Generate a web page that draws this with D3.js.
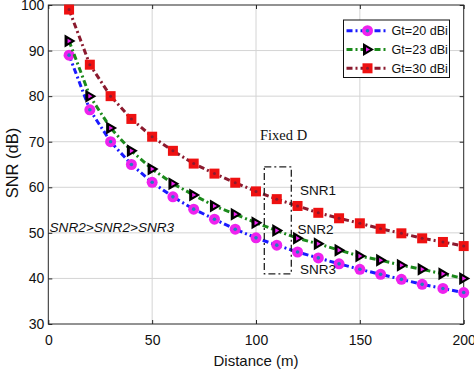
<!DOCTYPE html>
<html>
<head>
<meta charset="utf-8">
<script src="https://cdn.jsdelivr.net/npm/d3@7"></script>
<style>
  body { margin: 0; background: #fff; }
  svg { display: block; font-family: "Liberation Sans", Arial, sans-serif; }
</style>
</head>
<body>
<div id="chart"></div>
<script>
// data
var distance = [10, 20, 30, 40, 50, 60, 70, 80, 90, 100, 110, 120, 130, 140, 150, 160, 170, 180, 190, 200];
var snrGt20 = [89, 77, 70, 65, 61.1, 57.9, 55.2, 53.0, 50.8, 48.9, 47.3, 45.8, 44.5, 43.2, 42.0, 40.9, 39.8, 38.7, 37.8, 36.9];
var snrGt23 = [92.1, 80, 73, 68, 64, 60.8, 58.3, 55.9, 54.1, 52.2, 50.5, 48.8, 47.6, 46.2, 44.9, 44.0, 42.9, 42.0, 41.0, 40.0];
var snrGt30 = [99, 86.9, 80, 75, 71.1, 68, 65.2, 63, 61, 59.1, 57.4, 55.9, 54.4, 53.2, 52.1, 50.9, 49.9, 48.8, 48.0, 47.1];
var seriesNames = ["Gt=20 dBi", "Gt=23 dBi", "Gt=30 dBi"];
var xTicks = [0, 50, 100, 150, 200];
var yTicks = [30, 40, 50, 60, 70, 80, 90, 100];
var fixedBox = {x0: 104, x1: 117, y0: 41, y1: 64.5};

//set up SVG
var svgWidth = 474;
var svgHeight = 370;
var margin = {top: 5, right: 10.3, bottom: 46, left: 48.3};
var width = svgWidth - margin.left - margin.right;
var height = svgHeight - margin.top - margin.bottom;

var svg = d3.select("#chart")
    .append("svg")
    .attr("width", svgWidth)
    .attr("height", svgHeight);

var chartGroup = svg.append("g")
    .attr("transform", `translate(${margin.left}, ${margin.top})`);

var x = d3.scaleLinear().domain([0, 200]).range([0, width]);
var y = d3.scaleLinear().domain([30, 100]).range([height, 0]);

// grid
chartGroup.append("g").selectAll("line").data(xTicks.slice(1, -1)).enter().append("line")
    .attr("x1", d => x(d)).attr("x2", d => x(d))
    .attr("y1", 0).attr("y2", height)
    .attr("stroke", "#d4d4d4").attr("stroke-width", 1);
chartGroup.append("g").selectAll("line").data(yTicks.slice(1, -1)).enter().append("line")
    .attr("y1", d => y(d)).attr("y2", d => y(d))
    .attr("x1", 0).attr("x2", width)
    .attr("stroke", "#d4d4d4").attr("stroke-width", 1);

// axes (ticks pointing inward, like matlab)
var axisColor = "#262626";
function styleAxis(g) {
    g.select(".domain").remove();
    g.selectAll(".tick line").attr("stroke", axisColor);
    g.selectAll(".tick text").attr("fill", "#111").style("font-size", "14px")
        .style("font-family", "'Liberation Sans', Arial, sans-serif");
}
chartGroup.append("g")
    .attr("transform", `translate(0, ${height})`)
    .call(d3.axisBottom(x).tickValues(xTicks).tickSizeInner(-4).tickSizeOuter(0).tickPadding(11))
    .call(styleAxis);
chartGroup.append("g")
    .call(d3.axisLeft(y).tickValues(yTicks).tickSizeInner(-4).tickSizeOuter(0).tickPadding(4))
    .call(styleAxis);
chartGroup.append("g")
    .call(d3.axisTop(x).tickValues(xTicks).tickSizeInner(-4).tickSizeOuter(0).tickFormat(""))
    .call(styleAxis);
chartGroup.append("g")
    .attr("transform", `translate(${width}, 0)`)
    .call(d3.axisRight(y).tickValues(yTicks).tickSizeInner(-4).tickSizeOuter(0).tickFormat(""))
    .call(styleAxis);

chartGroup.append("rect")
    .attr("x", 0).attr("y", 0).attr("width", width).attr("height", height)
    .attr("fill", "none").attr("stroke", axisColor).attr("stroke-width", 1);

// axis labels
svg.append("text")
    .attr("x", margin.left + x(100)).attr("y", 366)
    .attr("text-anchor", "middle").style("font-size", "15px").attr("fill", "#111")
    .text("Distance (m)");
svg.append("text")
    .attr("transform", `translate(17.5, 163) rotate(-90)`)
    .attr("text-anchor", "middle").style("font-size", "16.5px").attr("fill", "#111")
    .text("SNR (dB)");

// series
var series = [
    {name: seriesNames[0], values: snrGt20, line: "#1a1aff", marker: "circle"},
    {name: seriesNames[1], values: snrGt23, line: "#1b8a1b", marker: "triangle"},
    {name: seriesNames[2], values: snrGt30, line: "#8b1a2e", marker: "square"}
];

var lineGen = d3.line().x(d => x(d[0])).y(d => y(d[1]));

function drawMarker(g, type, color) {
    if (type === "circle") {
        g.append("circle").attr("r", 5.5).attr("fill", "#ee22ee");
        g.append("circle").attr("r", 1.8).attr("fill", "#1f7fbf");
    } else if (type === "triangle") {
        g.append("path").attr("d", "M-4.5,-6.5L6.5,0L-4.5,6.5Z").attr("fill", "#000");
        g.append("path").attr("d", "M-1.5,-2.3L2.5,0L-1.5,2.3Z").attr("fill", "#ee22ee");
    } else {
        g.append("rect").attr("x", -5).attr("y", -5).attr("width", 10).attr("height", 10).attr("fill", "#ee1111");
        g.append("circle").attr("r", 1.5).attr("fill", color);
    }
}

series.forEach(function(s) {
    var pts = distance.map((d, i) => [d, s.values[i]]);
    chartGroup.append("path")
        .datum(pts)
        .attr("d", lineGen)
        .attr("fill", "none")
        .attr("stroke", s.line)
        .attr("stroke-width", 3)
        .attr("stroke-dasharray", "6,3,2,3");
    chartGroup.append("g").selectAll("g").data(pts).enter().append("g")
        .attr("transform", d => `translate(${x(d[0])}, ${y(d[1])})`)
        .each(function() { drawMarker(d3.select(this), s.marker, s.line); });
});

// fixed D box
chartGroup.append("rect")
    .attr("x", x(fixedBox.x0)).attr("y", y(fixedBox.y1))
    .attr("width", x(fixedBox.x1) - x(fixedBox.x0))
    .attr("height", y(fixedBox.y0) - y(fixedBox.y1))
    .attr("fill", "none").attr("stroke", "#222").attr("stroke-width", 1.3)
    .attr("stroke-dasharray", "7,3,2,3");

// annotations
svg.append("text").attr("x", 260).attr("y", 140)
    .style("font-family", "'Liberation Serif', 'DejaVu Serif', serif").style("font-size", "14.5px")
    .attr("fill", "#111").text("Fixed D");
svg.append("text").attr("x", 300).attr("y", 195).style("font-size", "13.5px").attr("fill", "#111").text("SNR1");
svg.append("text").attr("x", 297.5).attr("y", 234).style("font-size", "13.5px").attr("fill", "#111").text("SNR2");
svg.append("text").attr("x", 300).attr("y", 274).style("font-size", "13.5px").attr("fill", "#111").text("SNR3");
svg.append("text").attr("x", 49.5).attr("y", 231.5).style("font-size", "13.6px").style("font-style", "italic")
    .attr("fill", "#111").text("SNR2>SNR2>SNR3");

// legend
var legend = svg.append("g").attr("transform", "translate(343.5, 20)");
legend.append("rect").attr("width", 106).attr("height", 57.5)
    .attr("fill", "#fff").attr("stroke", "#111").attr("stroke-width", 1);
series.forEach(function(s, i) {
    var row = legend.append("g").attr("transform", `translate(0, ${10.7 + i * 18.8})`);
    row.append("line").attr("x1", 3).attr("x2", 45)
        .attr("stroke", s.line).attr("stroke-width", 3).attr("stroke-dasharray", "6,3,2,3");
    var m = row.append("g").attr("transform", "translate(24, 0)");
    drawMarker(m, s.marker, s.line);
    row.append("text").attr("x", 48).attr("dy", "0.35em")
        .style("font-size", "12.6px").attr("fill", "#111").text(s.name);
});
</script>
</body>
</html>
